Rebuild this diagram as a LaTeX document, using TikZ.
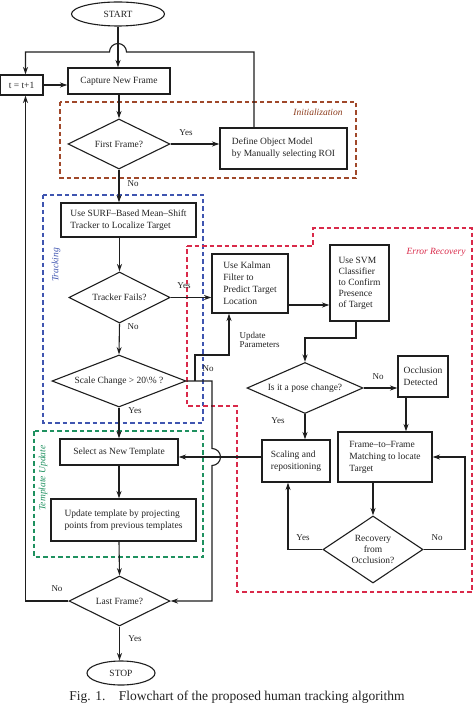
\documentclass[tikz,border=0pt]{standalone}
\usepackage{fontspec}
\setmainfont{Liberation Serif}
\usetikzlibrary{shapes.geometric,arrows.meta,calc}
\definecolor{linec}{HTML}{1E1E1E}
\definecolor{txt}{HTML}{222222}
\definecolor{initc}{HTML}{A0482A}
\definecolor{inittxt}{HTML}{8B3A1A}
\definecolor{trackc}{HTML}{3F55B0}
\definecolor{tempc}{HTML}{1F9160}
\definecolor{errc}{HTML}{D92A4A}
\begin{document}
\begin{tikzpicture}[x=1pt,y=-1pt,
  every node/.style={font=\fontsize{9.5}{12}\selectfont, text=txt},
  box/.style={draw=linec, line width=1.1pt, rectangle, inner sep=0pt, align=left},
  dia/.style={draw=linec, line width=1.1pt, diamond, inner sep=0pt},
  term/.style={draw=linec, line width=1.1pt, ellipse, inner sep=0pt},
  arr/.style={draw=linec, line width=1.1pt, -{Stealth[length=7.5pt,width=5pt]}},
  grp/.style={line width=1.1pt, dash pattern=on 4.5pt off 3pt},
  lbl/.style={font=\fontsize{9}{10}\selectfont},
  grplbl/.style={font=\fontsize{9.5}{12}\selectfont\itshape}
]
\useasboundingbox (0,0) rectangle (474,703);

% group frames
\draw[grp, initc] (60,102) rectangle (356,178);
\draw[grp, trackc] (43,195) rectangle (203,423);
\draw[grp, tempc] (34,431) rectangle (203,557);
\draw[grp, errc] (187,246) -- (313,246) -- (313,228) -- (472,228) -- (472,592) -- (237,592) -- (237,406) -- (187,406) -- cycle;

\node[grplbl, text=inittxt] (initlbl) at (318,112) {Initialization};
\node[grplbl, text=trackc, rotate=90] (tracklbl) at (56,265) {Tracking};
\node[grplbl, text=tempc, rotate=90] (templbl) at (43,478) {Template Update};
\node[grplbl, text=errc] (errlbl) at (436,252) {Error Recovery};

% nodes
\node[term, minimum width=93pt, minimum height=24pt] (start) at (118,14) {START};
\node[box, minimum width=43pt, minimum height=20pt] (tt) at (21.5,85) {t = t+1};
\node[box, minimum width=102pt, minimum height=26pt, align=center] (capture) at (119,81) {Capture New Frame};
\node[dia, minimum width=102pt, minimum height=50pt, label=center:{First Frame?}] (first) at (119,144) {};
\node[box, minimum width=127pt, minimum height=41pt] (define) at (283.5,148.5) {Define Object Model\\by Manually selecting ROI};
\node[box, minimum width=135pt, minimum height=34pt] (surf) at (128.5,220) {Use SURF--Based Mean--Shift\\Tracker to Localize Target};
\node[dia, minimum width=101pt, minimum height=51pt, label=center:{Tracker Fails?}] (track) at (119.5,297.5) {};
\node[dia, minimum width=134pt, minimum height=52pt, label=center:{Scale Change > 20\textbackslash\% ?}] (scale) at (119,381) {};
\node[box, minimum width=118pt, minimum height=26pt, align=center] (select) at (119,452) {Select as New Template};
\node[box, minimum width=145pt, minimum height=42pt] (update) at (123.5,520) {Update template by projecting\\points from previous templates};
\node[dia, minimum width=101pt, minimum height=50pt, label=center:{Last Frame?}] (last) at (119.5,601) {};
\node[term, minimum width=68pt, minimum height=24pt] (stop) at (121,673) {STOP};
\node[box, minimum width=76pt, minimum height=59pt] (kalman) at (250,283.5) {Use Kalman\\Filter to\\Predict Target\\Location};
\node[box, minimum width=59pt, minimum height=76pt, font=\fontsize{9.5}{11}\selectfont] (svm) at (359.5,283) {Use SVM\\Classifier\\to Confirm\\Presence\\of Target};
\node[dia, minimum width=116pt, minimum height=51pt, label=center:{Is it a pose change?}] (pose) at (305,388) {};
\node[box, minimum width=50pt, minimum height=41pt] (occl) at (423,376.5) {Occlusion\\Detected};
\node[box, minimum width=68pt, minimum height=42pt] (scaling) at (296,461) {Scaling and\\repositioning};
\node[box, minimum width=94pt, minimum height=50pt] (f2f) at (385,457) {Frame--to--Frame\\Matching to locate\\Target};
\node[dia, minimum width=100pt, minimum height=67pt, label={[align=center, font=\fontsize{9.5}{11}\selectfont]center:Recovery\\from\\Occlusion?}] (recov) at (373,549.5) {};

% helper coordinates
\coordinate (topy) at (0,52);
\coordinate (lpx) at (25.5,0);
\coordinate (rx) at (212,0);
\coordinate (hy) at (0,457);
\coordinate (bx) at (195,0);
\coordinate (ky) at (0,355);
\coordinate (kx) at (229,0);
\coordinate (ay) at (0,305);
\coordinate (sx) at (356,0);
\coordinate (sy) at (0,338);
\coordinate (ox) at (406,0);
\coordinate (lx) at (288,0);
\coordinate (rrx) at (465,0);
\coordinate (dx) at (254,0);

% connectors
\draw[arr] (start.south) -- (start.south |- capture.north);
\draw[arr] (dx |- define.north) -- (dx |- topy) -- ($(start.south |- topy)+(8.5,0)$) arc[start angle=0,end angle=180,radius=8.5pt] -- (lpx |- topy) -- (lpx |- tt.north);
\draw[arr] (tt.east) -- (tt.east -| capture.west);
\draw[arr] (capture.south) -- (first.north);
\draw[arr] (first.east) -- (define.west |- first.east);
\draw[arr] (first.south) -- (first.south |- surf.north);
\draw[arr] (track.north |- surf.south) -- (track.north);
\draw[arr] (track.east) -- (track.east -| kalman.west);
\draw[arr] (track.south) -- (scale.north);
\draw[arr] (scale.east) -- (scale.east -| rx) -- ($(rx |- hy)+(0,-8.5)$) arc[start angle=90,end angle=-90,radius=8.5pt] -- (rx |- last.east) -- (last.east);
\draw[arr] (bx |- scale.east) -- (bx |- ky) -- (kx |- ky) -- (kx |- kalman.south);
\draw[arr] (kalman.east |- ay) -- (svm.west |- ay);
\draw[arr] (sx |- svm.south) -- (sx |- sy) -- (pose.north |- sy) -- (pose.north);
\draw[arr] (pose.east) -- (pose.east -| occl.west);
\draw[arr] (ox |- occl.south) -- (ox |- f2f.north);
\draw[arr] (pose.south) -- (pose.south |- scaling.north);
\draw[arr] (recov.north |- f2f.south) -- (recov.north);
\draw[arr] (recov.west) -- (recov.west -| lx) -- (lx |- scaling.south);
\draw[arr] (recov.east) -- (recov.east -| rrx) -- (rrx |- hy) -- (f2f.east |- hy);
\draw[arr] (scaling.west |- hy) -- (select.east |- hy);
\draw[arr] (scale.south) -- (select.north);
\draw[arr] (select.south) -- (select.south |- update.north);
\draw[arr] (select.south |- update.south) -- (last.north);
\draw[arr] (last.west) -- (lpx |- last.west) -- (lpx |- tt.south);
\draw[arr] (last.south) -- (last.south |- stop.north);

% connector labels
\node[lbl] (l1) at (186,133) {Yes};
\node[lbl] (l2) at (133,184) {No};
\node[lbl] (l3) at (184,286) {Yes};
\node[lbl] (l4) at (133,327) {No};
\node[lbl] (l5) at (208,369) {No};
\node[lbl] (l6) at (135,411) {Yes};
\node[lbl, align=left, anchor=west, font=\fontsize{9}{8.5}\selectfont] (l7) at (236,340) {Update\\Parameters};
\node[lbl] (l8) at (378,377) {No};
\node[lbl] (l9) at (278,421) {Yes};
\node[lbl] (l10) at (303,538) {Yes};
\node[lbl] (l11) at (437,538) {No};
\node[lbl] (l12) at (57,589) {No};
\node[lbl] (l13) at (135,639) {Yes};

\node[font=\fontsize{13.5}{15}\selectfont] (cap) at (237,697) {Fig. 1.\quad Flowchart of the proposed human tracking algorithm};
\end{tikzpicture}
\end{document}
